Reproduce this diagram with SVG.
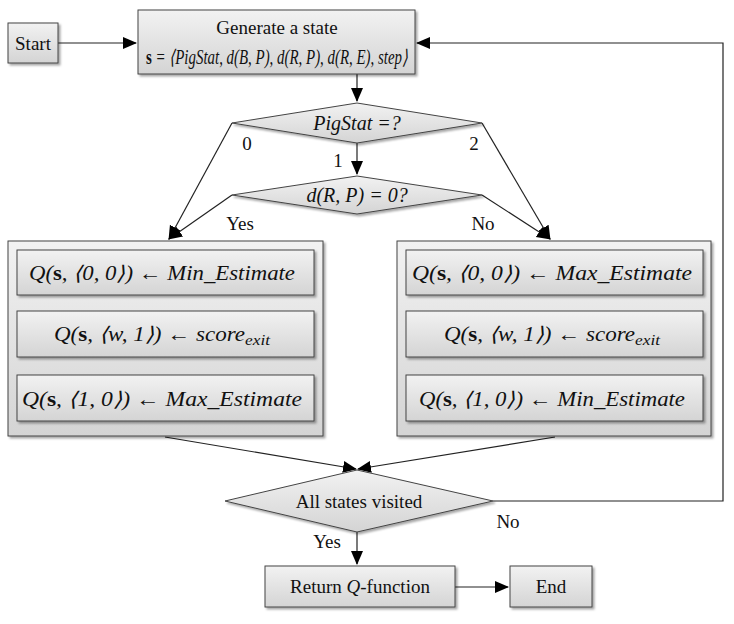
<svg xmlns="http://www.w3.org/2000/svg" width="734" height="624" viewBox="0 0 734 624">
<defs>
<linearGradient id="g" x1="0" y1="0" x2="0" y2="1"><stop offset="0" stop-color="#f2f2f2"/><stop offset="1" stop-color="#d4d4d4"/></linearGradient>
<filter id="sh" x="-5%" y="-5%" width="115%" height="125%"><feDropShadow dx="2" dy="2" stdDeviation="1.2" flood-color="#000" flood-opacity="0.35"/></filter>
<marker id="a" markerWidth="14" markerHeight="14" refX="13" refY="6" orient="auto" markerUnits="userSpaceOnUse" viewBox="0 0 14 12"><path d="M0,0 L14,6 L0,12 z" fill="#000"/></marker>
</defs>
<style>
.b{fill:url(#g);stroke:#444;stroke-width:1;filter:url(#sh)}
.t{font-family:"Liberation Serif",serif;font-size:19px;fill:#111;text-anchor:middle}
.m{font-family:"Liberation Serif",serif;font-style:italic;font-size:20px;fill:#111;text-anchor:middle}
.l{stroke:#222;stroke-width:1.2;fill:none}
</style>
<rect width="734" height="624" fill="#fff"/>
<g id="connectors">
<path class="l" d="M58,43 H136" marker-end="url(#a)"/>
<path class="l" d="M357,74 V101" marker-end="url(#a)"/>
<path class="l" d="M357,143 V174" marker-end="url(#a)"/>
<path class="l" d="M232,123 L169,239" marker-end="url(#a)"/>
<path class="l" d="M232,195 L169,239" marker-end="url(#a)"/>
<path class="l" d="M482,123 L550,239" marker-end="url(#a)"/>
<path class="l" d="M482,195 L550,239" marker-end="url(#a)"/>
<path class="l" d="M165,437 L356,469" marker-end="url(#a)"/>
<path class="l" d="M555,437 L358,469" marker-end="url(#a)"/>
<path class="l" d="M493,501 H723 V43 H417" marker-end="url(#a)"/>
<path class="l" d="M357,532 V564" marker-end="url(#a)"/>
<path class="l" d="M455,587 H508" marker-end="url(#a)"/>
</g>
<g id="start"><rect class="b" x="8" y="23" width="50" height="40"/><text class="t" x="33" y="50">Start</text></g>
<g id="generate"><rect class="b" x="138" y="10" width="277" height="64"/>
<text class="t" x="277" y="34">Generate a state</text>
<text class="m" x="277" y="64" font-size="18" textLength="262" lengthAdjust="spacingAndGlyphs"><tspan font-weight="bold" font-style="normal">s</tspan> = ⟨PigStat, d(B, P), d(R, P), d(R, E), step⟩</text></g>
<g id="pigstat"><polygon class="b" points="357,103 482,123 357,143 232,123"/><text class="m" x="357" y="130">PigStat =?</text></g>
<g id="drp"><polygon class="b" points="357,176 482,195 357,214 232,195"/><text class="m" x="357" y="202">d(R, P) = 0?</text></g>
<g id="left"><rect class="b" x="8" y="241" width="315" height="195"/>
<rect class="b" x="17" y="250" width="297" height="45"/><text class="m" x="162" y="280" textLength="266" lengthAdjust="spacingAndGlyphs">Q(<tspan font-weight="bold" font-style="normal">s</tspan>, ⟨0, 0⟩) ← Min_Estimate</text>
<rect class="b" x="17" y="311" width="297" height="46"/><text class="m" x="162" y="341" textLength="216" lengthAdjust="spacingAndGlyphs">Q(<tspan font-weight="bold" font-style="normal">s</tspan>, ⟨w, 1⟩) ← score<tspan font-size="15" dy="4">exit</tspan></text>
<rect class="b" x="17" y="375" width="297" height="46"/><text class="m" x="162" y="406" textLength="280" lengthAdjust="spacingAndGlyphs">Q(<tspan font-weight="bold" font-style="normal">s</tspan>, ⟨1, 0⟩) ← Max_Estimate</text></g>
<g id="right"><rect class="b" x="397" y="241" width="314" height="195"/>
<rect class="b" x="406" y="250" width="297" height="45"/><text class="m" x="552" y="280" textLength="280" lengthAdjust="spacingAndGlyphs">Q(<tspan font-weight="bold" font-style="normal">s</tspan>, ⟨0, 0⟩) ← Max_Estimate</text>
<rect class="b" x="406" y="311" width="297" height="46"/><text class="m" x="552" y="341" textLength="216" lengthAdjust="spacingAndGlyphs">Q(<tspan font-weight="bold" font-style="normal">s</tspan>, ⟨w, 1⟩) ← score<tspan font-size="15" dy="4">exit</tspan></text>
<rect class="b" x="406" y="375" width="297" height="46"/><text class="m" x="552" y="406" textLength="266" lengthAdjust="spacingAndGlyphs">Q(<tspan font-weight="bold" font-style="normal">s</tspan>, ⟨1, 0⟩) ← Min_Estimate</text></g>
<g id="visited"><polygon class="b" points="357,470 493,501 357,532 225,501"/><text class="t" x="359" y="508">All states visited</text></g>
<g id="return"><rect class="b" x="265" y="566" width="190" height="41"/><text class="t" x="360" y="593">Return <tspan font-style="italic">Q</tspan>-function</text></g>
<g id="end"><rect class="b" x="510" y="566" width="82" height="41"/><text class="t" x="551" y="593">End</text></g>
<g id="labels">
<text class="t" x="247" y="150">0</text><text class="t" x="338" y="167">1</text><text class="t" x="474" y="150">2</text>
<text class="t" x="240" y="230">Yes</text><text class="t" x="483" y="230">No</text>
<text class="t" x="508" y="528">No</text><text class="t" x="327" y="548">Yes</text>
</g>
</svg>
